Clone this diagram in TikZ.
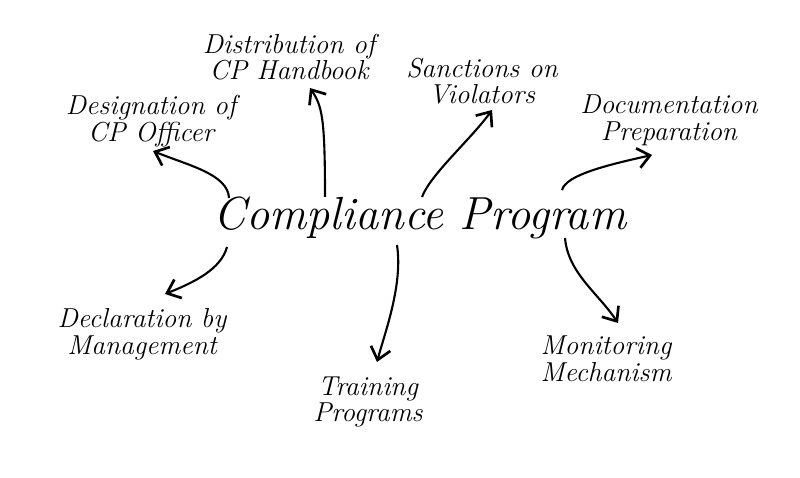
\documentclass[tikz,border=0pt]{standalone}
\usetikzlibrary{arrows.meta, calc}

\tikzset{
  lbl/.style={align=center, inner sep=2pt, font=\fontsize{19.5}{19}\selectfont\itshape},
  hand/.style={line width=1.5pt, -{Straight Barb[length=3mm, width=5mm, line width=1.9pt]}}
}

\begin{document}
\begin{tikzpicture}[x=0.025cm, y=-0.025cm]

  \useasboundingbox[fill=white] (0, 0) rectangle (800, 478);

  \node[inner sep=0pt, font=\fontsize{33}{38}\selectfont\itshape] (main) at (420, 218) {Compliance Program};

  \node[lbl] (desig) at (151, 121) {Designation of\\CP Officer};
  \node[lbl] (distrib) at (289, 57) {Distribution of\\CP Handbook};
  \node[lbl] (sanct) at (482, 81) {Sanctions on\\Violators};
  \node[lbl] (docu) at (669, 120) {Documentation\\Preparation};
  \node[lbl] (decl) at (142, 334) {Declaration by\\Management};
  \node[lbl] (train) at (368, 402) {Training\\Programs};
  \node[lbl] (monit) at (606, 359) {Monitoring\\Mechanism};

  % upward
  \draw[hand] ($(main.center)+(-191, -20)$) .. controls +(-1, -24) and +(34, 14) .. ($(desig.center)+(2, 30)$);
  \draw[hand] ($(main.center)+(-95, -21)$) .. controls +(0, -80) and +(12, 18) .. ($(distrib.center)+(21, 31)$);
  \draw[hand] ($(main.center)+(2, -21)$) .. controls +(8, -22) and +(-20, 28) .. ($(sanct.center)+(10, 29)$);
  \draw[hand] ($(main.center)+(142, -28)$) .. controls +(4, -15) and +(-45, 10) .. ($(docu.center)+(-17, 35)$);

  % downward
  \draw[hand] ($(main.center)+(-193, 29)$) .. controls +(-6, 22) and +(30, -12) .. ($(decl.center)+(23, -40)$);
  \draw[hand] ($(main.center)+(-23, 27)$) .. controls +(6, 40) and +(8, -30) .. ($(train.center)+(9, -40)$);
  \draw[hand] ($(main.center)+(145, 20)$) .. controls +(3, 35) and +(-20, -30) .. ($(monit.center)+(12, -36)$);

\end{tikzpicture}
\end{document}
